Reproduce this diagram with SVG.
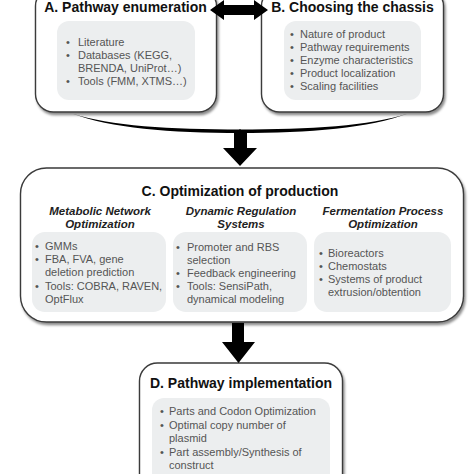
<svg xmlns="http://www.w3.org/2000/svg" width="474" height="474" viewBox="0 0 474 474">
<defs>
<filter id="sh" x="-10%" y="-10%" width="120%" height="130%">
<feDropShadow dx="1.5" dy="2.5" stdDeviation="1.2" flood-color="#000" flood-opacity="0.45"/>
</filter>
</defs>
<style>
.box{fill:#fff;stroke:#3a3a3a;stroke-width:1.4;filter:url(#sh)}
.inner{fill:#eceeef;stroke:none}
.title{font-family:"Liberation Sans",Arial,sans-serif;font-weight:bold;font-size:14px;fill:#111;text-anchor:middle}
.sub{font-family:"Liberation Sans",Arial,sans-serif;font-weight:bold;font-style:italic;font-size:11.5px;fill:#222;text-anchor:middle}
.item{font-family:"Liberation Sans",Arial,sans-serif;font-size:11px;fill:#555}
.arrow{fill:#000}
</style>
<rect width="474" height="474" fill="#fff"/>

<g id="nodeA">
<rect class="box" x="35.5" y="-12" width="181" height="124" rx="18"/>
<rect class="inner" x="57" y="21" width="138" height="79" rx="12"/>
<text class="title" x="125.5" y="12">A. Pathway enumeration</text>
<text class="item"><tspan x="66" y="46">•</tspan><tspan x="78" y="46">Literature</tspan><tspan x="66" y="59">•</tspan><tspan x="78" y="59">Databases (KEGG,</tspan><tspan x="78" y="72">BRENDA, UniProt…)</tspan><tspan x="66" y="85">•</tspan><tspan x="78" y="85">Tools (FMM, XTMS…)</tspan></text>
</g>

<g id="nodeB">
<rect class="box" x="261.5" y="-12" width="182" height="124" rx="18"/>
<rect class="inner" x="284" y="21" width="137" height="79" rx="12"/>
<text class="title" x="352.5" y="12">B. Choosing the chassis</text>
<text class="item"><tspan x="290" y="38">•</tspan><tspan x="300" y="38">Nature of product</tspan><tspan x="290" y="51">•</tspan><tspan x="300" y="51">Pathway requirements</tspan><tspan x="290" y="64">•</tspan><tspan x="300" y="64">Enzyme characteristics</tspan><tspan x="290" y="77">•</tspan><tspan x="300" y="77">Product localization</tspan><tspan x="290" y="90">•</tspan><tspan x="300" y="90">Scaling facilities</tspan></text>
</g>

<g id="nodeC">
<rect class="box" x="20.5" y="168" width="443" height="154" rx="26"/>
<text class="title" x="240" y="196">C. Optimization of production</text>
<text class="sub"><tspan x="100" y="215">Metabolic Network</tspan><tspan x="100" y="228">Optimization</tspan></text>
<text class="sub"><tspan x="241" y="215">Dynamic Regulation</tspan><tspan x="241" y="228">Systems</tspan></text>
<text class="sub"><tspan x="383" y="215">Fermentation Process</tspan><tspan x="383" y="228">Optimization</tspan></text>
<rect class="inner" x="32" y="232" width="134" height="80" rx="13"/>
<rect class="inner" x="173" y="232" width="134" height="80" rx="13"/>
<rect class="inner" x="314" y="232" width="137" height="80" rx="13"/>
<text class="item"><tspan x="35" y="250">•</tspan><tspan x="45" y="250">GMMs</tspan><tspan x="35" y="263">•</tspan><tspan x="45" y="263">FBA, FVA, gene</tspan><tspan x="45" y="276">deletion prediction</tspan><tspan x="35" y="290">•</tspan><tspan x="45" y="290">Tools: COBRA, RAVEN,</tspan><tspan x="45" y="303">OptFlux</tspan></text>
<text class="item"><tspan x="176" y="251">•</tspan><tspan x="187" y="251">Promoter and RBS</tspan><tspan x="187" y="264">selection</tspan><tspan x="176" y="277">•</tspan><tspan x="187" y="277">Feedback engineering</tspan><tspan x="176" y="290">•</tspan><tspan x="187" y="290">Tools: SensiPath,</tspan><tspan x="187" y="303">dynamical modeling</tspan></text>
<text class="item"><tspan x="319" y="257">•</tspan><tspan x="328" y="257">Bioreactors</tspan><tspan x="319" y="270">•</tspan><tspan x="328" y="270">Chemostats</tspan><tspan x="319" y="283">•</tspan><tspan x="328" y="283">Systems of product</tspan><tspan x="328" y="296">extrusion/obtention</tspan></text>
</g>

<g id="nodeD">
<rect class="box" x="139.5" y="363" width="203" height="130" rx="18"/>
<rect class="inner" x="152" y="398" width="178" height="90" rx="12"/>
<text class="title" x="241" y="388">D. Pathway implementation</text>
<text class="item"><tspan x="160" y="415">•</tspan><tspan x="169" y="415">Parts and Codon Optimization</tspan><tspan x="160" y="429">•</tspan><tspan x="169" y="429">Optimal copy number of</tspan><tspan x="169" y="442">plasmid</tspan><tspan x="160" y="456">•</tspan><tspan x="169" y="456">Part assembly/Synthesis of</tspan><tspan x="169" y="469">construct</tspan></text>
</g>

<g id="connectors">
<path class="arrow" d="M210 10 L224 0 L224 5 L254 5 L254 0 L268 10 L254 20 L254 15 L224 15 L224 20 Z"/>
<path class="arrow" d="M72 113.5 C110 126 170 129.5 241 129.5 L241 133 C170 133 110 128 72 113.5 Z"/>
<path class="arrow" d="M408 113.5 C370 126 310 129.5 239 129.5 L239 133 C310 133 370 128 408 113.5 Z"/>
<path class="arrow" d="M234 130 L247 130 L247 148 L257 148 L240 166 L223 148 L234 148 Z"/>
<path class="arrow" d="M232 323 L244 323 L244 342 L255 342 L238.5 363 L222 342 L232 342 Z"/>
</g>
</svg>
